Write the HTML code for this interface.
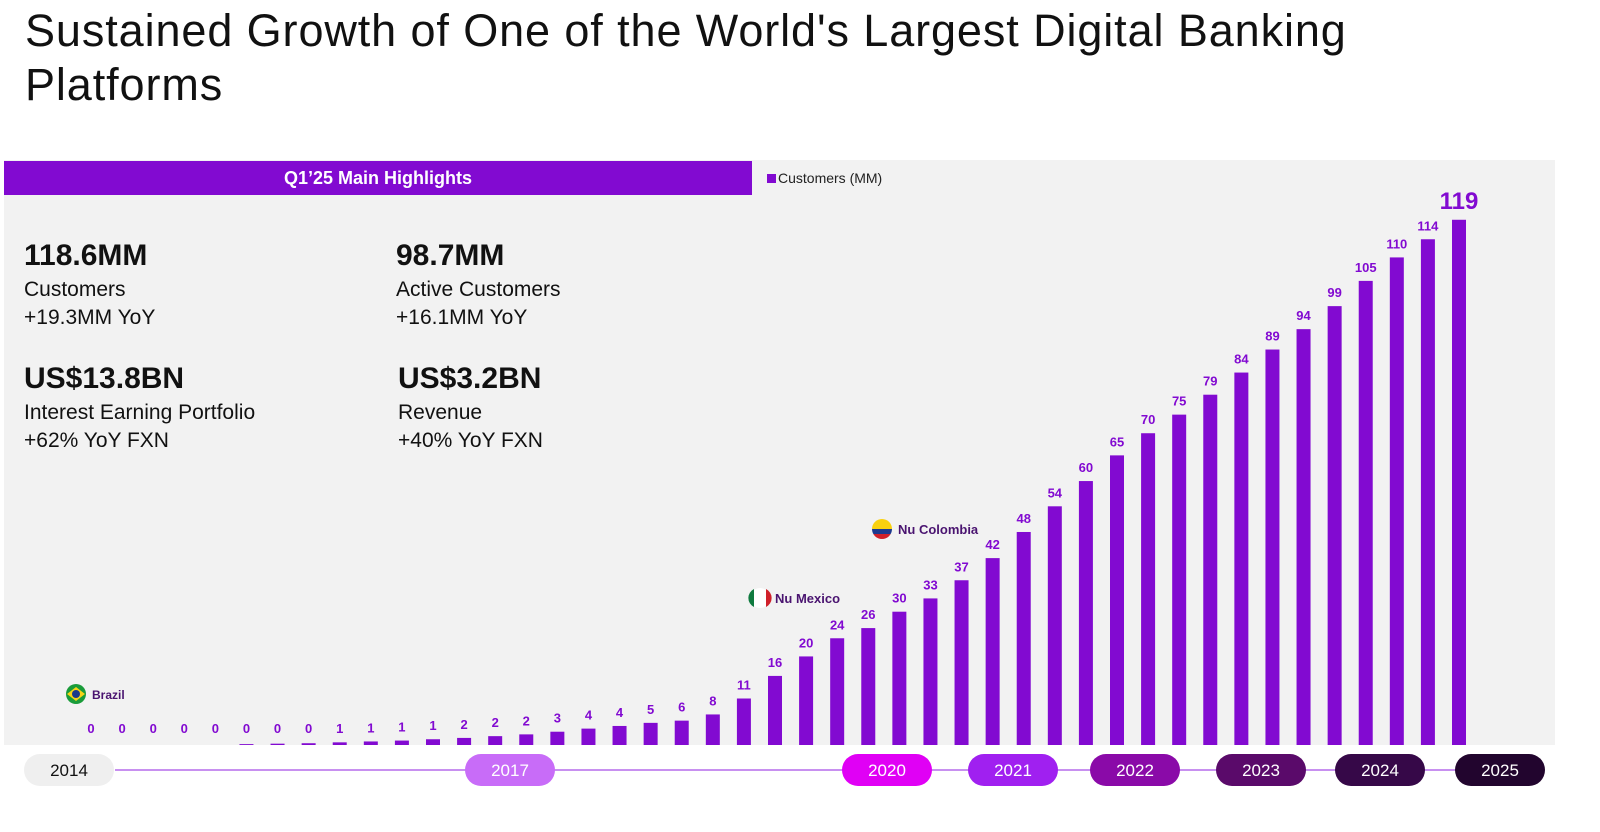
<!DOCTYPE html>
<html><head><meta charset="utf-8"><style>
body{margin:0;width:1600px;height:832px;background:#fff;font-family:"Liberation Sans",sans-serif;position:relative;overflow:hidden}
.t{position:absolute;white-space:nowrap}
</style></head><body>
<div class="t" style="left:25px;top:4px;font-size:45px;letter-spacing:0.9px;line-height:54px;color:#111">Sustained Growth of One of the World's Largest Digital Banking<br>Platforms</div>
<div style="position:absolute;left:4px;top:160px;width:1551px;height:585px;background:#f2f2f2"></div>
<div style="position:absolute;left:4px;top:161px;width:748px;height:34px;background:#820ad1;color:#fff;font-weight:bold;font-size:18px;line-height:34px;text-align:center">Q1’25 Main Highlights</div>
<div class="t" style="left:24px;top:236px;font-size:21px;line-height:28px;color:#111"><b style="font-size:30px;line-height:40px">118.6MM</b><br>Customers<br>+19.3MM YoY</div>
<div class="t" style="left:396px;top:236px;font-size:21px;line-height:28px;color:#111"><b style="font-size:30px;line-height:40px">98.7MM</b><br>Active Customers<br>+16.1MM YoY</div>
<div class="t" style="left:24px;top:359px;font-size:21px;line-height:28px;color:#111"><b style="font-size:30px;line-height:40px">US$13.8BN</b><br>Interest Earning Portfolio<br>+62% YoY FXN</div>
<div class="t" style="left:398px;top:359px;font-size:21px;line-height:28px;color:#111"><b style="font-size:30px;line-height:40px">US$3.2BN</b><br>Revenue<br>+40% YoY FXN</div>
<svg id="c" width="1600" height="832" style="position:absolute;left:0;top:0">
<g><rect x="767" y="174" width="9" height="9" fill="#820ad1"/><text x="778" y="183" font-size="14" fill="#222" font-family="Liberation Sans">Customers (MM)</text></g>
<line x1="115" y1="770" x2="1460" y2="770" stroke="#c890f0" stroke-width="2"/>
<g><circle cx="76" cy="694" r="10" fill="#1a9c3a"/><path d="M67 694 L76 687 L85 694 L76 701Z" fill="#f7d417"/><circle cx="76" cy="694" r="4" fill="#1b3b8a"/><text x="92" y="699" font-size="12" font-weight="bold" fill="#4a1470" font-family="Liberation Sans">Brazil</text></g>
<g><circle cx="760" cy="598" r="10" fill="#fff"/><path d="M754 589 A10 10 0 0 0 754 607Z" fill="#0f7a3f"/><path d="M766 589 A10 10 0 0 1 766 607Z" fill="#d0202a"/><text x="775" y="603" font-size="13" font-weight="bold" fill="#4a1470" font-family="Liberation Sans">Nu Mexico</text></g>
<g><clipPath id="cc"><circle cx="882" cy="529" r="10"/></clipPath><g clip-path="url(#cc)"><rect x="872" y="519" width="20" height="10" fill="#f9d10f"/><rect x="872" y="529" width="20" height="5" fill="#1d3a8f"/><rect x="872" y="534" width="20" height="5" fill="#d0202a"/></g><text x="898" y="534" font-size="13" font-weight="bold" fill="#4a1470" font-family="Liberation Sans">Nu Colombia</text></g>
</svg>
<script>
const values=[0,0,0,0,0,0.2,0.3,0.4,0.6,0.8,1.0,1.3,1.6,2.0,2.4,3.0,3.7,4.3,5.0,5.5,6.9,10.5,15.6,20.0,24.1,26.4,30.1,33.1,37.2,42.2,48.1,53.9,59.6,65.4,70.4,74.6,79.1,84.1,89.3,93.9,99.1,104.8,110.1,114.2,118.6];
const labels=["0","0","0","0","0","0","0","0","1","1","1","1","2","2","2","3","4","4","5","6","8","11","16","20","24","26","30","33","37","42","48","54","60","65","70","75","79","84","89","94","99","105","110","114","119"];
const years=["2014","2017","2020","2021","2022","2023","2024","2025"];
const yearCenters=[69,510,887,1013,1135,1261,1380,1500];
const yearFill=["#efefef","#c86cf8","#e000f5","#a020f0","#8a0aa8","#5a0a6a","#360848","#22052e"];
const svg=document.getElementById('c');const NS="http://www.w3.org/2000/svg";
const x0=91,step=(1459-91)/44,base=745,scale=527/119;
const xs=i=>x0+i*step, ys=v=>base-v*scale;
values.forEach((v,i)=>{
 const h=v*scale;
 if(h>0){const r=document.createElementNS(NS,'rect');
 r.setAttribute('x',xs(i)-7);r.setAttribute('y',ys(v));r.setAttribute('width',14);r.setAttribute('height',h);r.setAttribute('fill','#820ad1');
 
 
 svg.appendChild(r);}
 const t=document.createElementNS(NS,'text');
 const last=i===values.length-1;
 t.setAttribute('x',xs(i));t.setAttribute('y',Math.min(ys(v)-9,733)-(last?2:0));t.setAttribute('text-anchor','middle');
 t.setAttribute('font-size',last?24:13);t.setAttribute('font-weight','bold');t.setAttribute('fill','#820ad1');t.setAttribute('font-family','Liberation Sans');
 t.textContent=labels[i];
 
 
 svg.appendChild(t);
});
years.forEach((y,i)=>{
 const g=document.createElementNS(NS,'g');
 
 
 const r=document.createElementNS(NS,'rect');
 r.setAttribute('x',yearCenters[i]-45);r.setAttribute('y',754);r.setAttribute('width',90);r.setAttribute('height',32);r.setAttribute('rx',16);r.setAttribute('fill',yearFill[i]);
 g.appendChild(r);
 const t=document.createElementNS(NS,'text');
 t.setAttribute('x',yearCenters[i]);t.setAttribute('y',776);t.setAttribute('text-anchor','middle');t.setAttribute('font-size',17);t.setAttribute('font-family','Liberation Sans');
 t.setAttribute('fill',i===0?'#111':'#fff');t.textContent=y;
 g.appendChild(t);svg.appendChild(g);
});
</script>
</body></html>
